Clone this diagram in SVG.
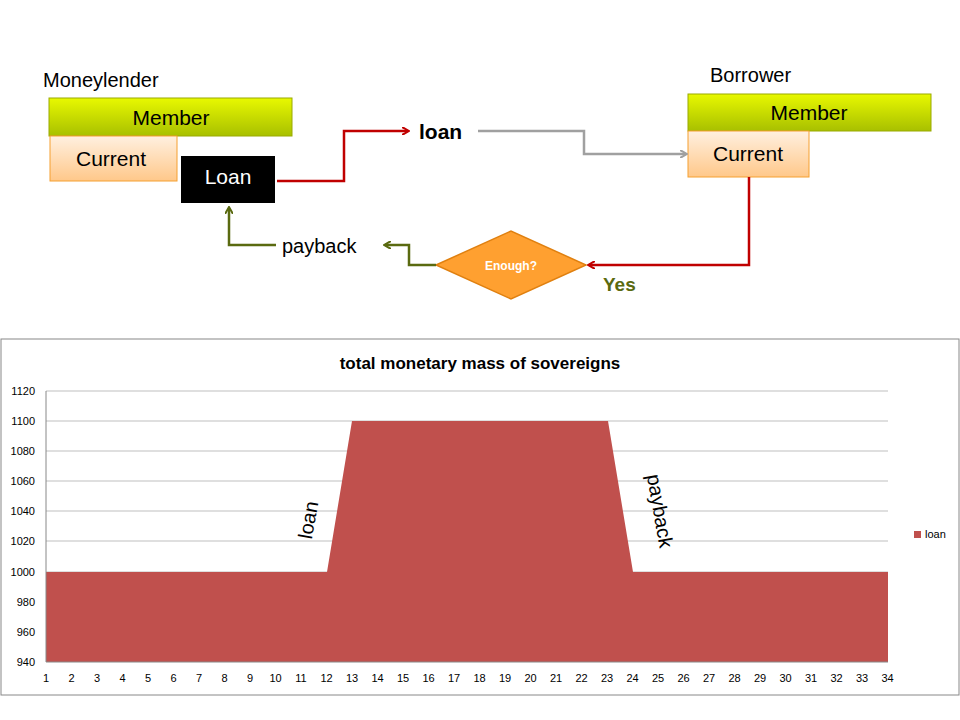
<svg xmlns="http://www.w3.org/2000/svg" width="960" height="720" viewBox="0 0 960 720">
<style>
text{font-family:"Liberation Sans",Arial,sans-serif}
.ax{font-size:11px;fill:#000}
.grid{stroke:#bfbfbf;stroke-width:1}
</style>
<defs>
<linearGradient id="g1" x1="0" y1="0" x2="0" y2="1"><stop offset="0" stop-color="#e8f800"/><stop offset="1" stop-color="#a8c000"/></linearGradient>
<linearGradient id="g2" x1="0" y1="0" x2="0" y2="1"><stop offset="0" stop-color="#fff0e0"/><stop offset="1" stop-color="#ffc88a"/></linearGradient>
<marker id="mr" markerWidth="8" markerHeight="8" refX="6" refY="4" orient="auto" markerUnits="userSpaceOnUse"><path d="M0,0 L7,4 L0,8" fill="none" stroke="#c00000" stroke-width="2"/></marker>
<marker id="mg" markerWidth="8" markerHeight="8" refX="6" refY="4" orient="auto" markerUnits="userSpaceOnUse"><path d="M0,0 L7,4 L0,8" fill="none" stroke="#a0a0a0" stroke-width="2"/></marker>
<marker id="mo" markerWidth="8" markerHeight="8" refX="6" refY="4" orient="auto" markerUnits="userSpaceOnUse"><path d="M0,0 L7,4 L0,8" fill="none" stroke="#5a6a10" stroke-width="2"/></marker>
</defs>
<rect width="960" height="720" fill="#fff"/>
<g id="lender">
<text x="43" y="87" font-size="20">Moneylender</text>
<rect x="49" y="98" width="243" height="38" fill="url(#g1)" stroke="#9aaa00"/>
<text x="171" y="125" font-size="21" text-anchor="middle">Member</text>
<rect x="50" y="136" width="127" height="45" fill="url(#g2)" stroke="#f5a030"/>
<text x="111" y="166" font-size="21" text-anchor="middle">Current</text>
</g>
<g id="loanbox">
<rect x="181" y="156" width="94" height="47" fill="#000"/>
<text x="228" y="184" font-size="21" fill="#fff" text-anchor="middle">Loan</text>
</g>
<g id="borrower">
<text x="710" y="82" font-size="20">Borrower</text>
<rect x="688" y="94" width="243" height="37" fill="url(#g1)" stroke="#9aaa00"/>
<text x="809" y="120" font-size="21" text-anchor="middle">Member</text>
<rect x="688" y="131" width="121" height="46" fill="url(#g2)" stroke="#f5a030"/>
<text x="748" y="161" font-size="21" text-anchor="middle">Current</text>
</g>
<g id="loanlabel"><text x="419" y="139" font-size="21" font-weight="bold">loan</text></g>
<g id="paybacklabel"><text x="282" y="253" font-size="20">payback</text></g>
<g id="enough">
<polygon points="436,265 511,231 586,265 511,299" fill="#ffa030" stroke="#e08010" stroke-width="1.5"/>
<text x="511" y="270" font-size="12" font-weight="bold" fill="#fff" text-anchor="middle">Enough?</text>
</g>
<g id="yes"><text x="603" y="291" font-size="19" font-weight="bold" fill="#5a6a10">Yes</text></g>
<g id="connectors" fill="none" stroke-width="2.5">
<path d="M277,181 H344 V131 H408" stroke="#c00000" marker-end="url(#mr)"/>
<path d="M478,131 H584 V154 H686" stroke="#a0a0a0" marker-end="url(#mg)"/>
<path d="M749,177 V265 H589" stroke="#c00000" marker-end="url(#mr)"/>
<path d="M436,265 H409 V245 H385" stroke="#5a6a10" marker-end="url(#mo)"/>
<path d="M276,245 H229 V208" stroke="#5a6a10" marker-end="url(#mo)"/>
</g>
<g id="chart">
<rect x="1" y="339" width="958" height="356" fill="#fff" stroke="#888"/>
<text x="480" y="369" font-size="17" font-weight="bold" text-anchor="middle">total monetary mass of sovereigns</text>
<g class="grid">
<line x1="46" y1="391" x2="888" y2="391"/><line x1="46" y1="421" x2="888" y2="421"/><line x1="46" y1="451" x2="888" y2="451"/><line x1="46" y1="481" x2="888" y2="481"/><line x1="46" y1="511" x2="888" y2="511"/><line x1="46" y1="541" x2="888" y2="541"/><line x1="46" y1="572" x2="888" y2="572"/><line x1="46" y1="602" x2="888" y2="602"/><line x1="46" y1="632" x2="888" y2="632"/>
</g>
<polygon points="46,572 327,572 352,421 608,421 633,572 888,572 888,662 46,662" fill="#c0504d"/>
<line x1="46" y1="391" x2="46" y2="662" stroke="#888"/>
<line x1="46" y1="662" x2="888" y2="662" stroke="#888"/>
<g class="ax" text-anchor="end">
<text x="35" y="395">1120</text><text x="35" y="425">1100</text><text x="35" y="455">1080</text><text x="35" y="485">1060</text><text x="35" y="515">1040</text><text x="35" y="545">1020</text><text x="35" y="576">1000</text><text x="35" y="606">980</text><text x="35" y="636">960</text><text x="35" y="666">940</text>
</g>
<g class="ax" text-anchor="middle">
<text x="46" y="682">1</text><text x="71.5" y="682">2</text><text x="97" y="682">3</text><text x="122.5" y="682">4</text><text x="148" y="682">5</text><text x="173.5" y="682">6</text><text x="199" y="682">7</text><text x="224.5" y="682">8</text><text x="250" y="682">9</text><text x="275.5" y="682">10</text><text x="301" y="682">11</text><text x="326.5" y="682">12</text><text x="352" y="682">13</text><text x="377.5" y="682">14</text><text x="403" y="682">15</text><text x="428.5" y="682">16</text><text x="454" y="682">17</text><text x="479.5" y="682">18</text><text x="505" y="682">19</text><text x="530.5" y="682">20</text><text x="556" y="682">21</text><text x="581.5" y="682">22</text><text x="607" y="682">23</text><text x="632.5" y="682">24</text><text x="658" y="682">25</text><text x="683.5" y="682">26</text><text x="709" y="682">27</text><text x="734.5" y="682">28</text><text x="760" y="682">29</text><text x="785.5" y="682">30</text><text x="811" y="682">31</text><text x="836.5" y="682">32</text><text x="862" y="682">33</text><text x="887.5" y="682">34</text>
</g>
<text x="320" y="527" font-size="20" text-anchor="middle" transform="rotate(-80 314 527)">loan</text>
<text x="650" y="516" font-size="20" text-anchor="middle" transform="rotate(80 654 516)">payback</text>
<rect x="914" y="531" width="7" height="7" fill="#c0504d"/>
<text x="925" y="538" class="ax">loan</text>
</g>
</svg>
